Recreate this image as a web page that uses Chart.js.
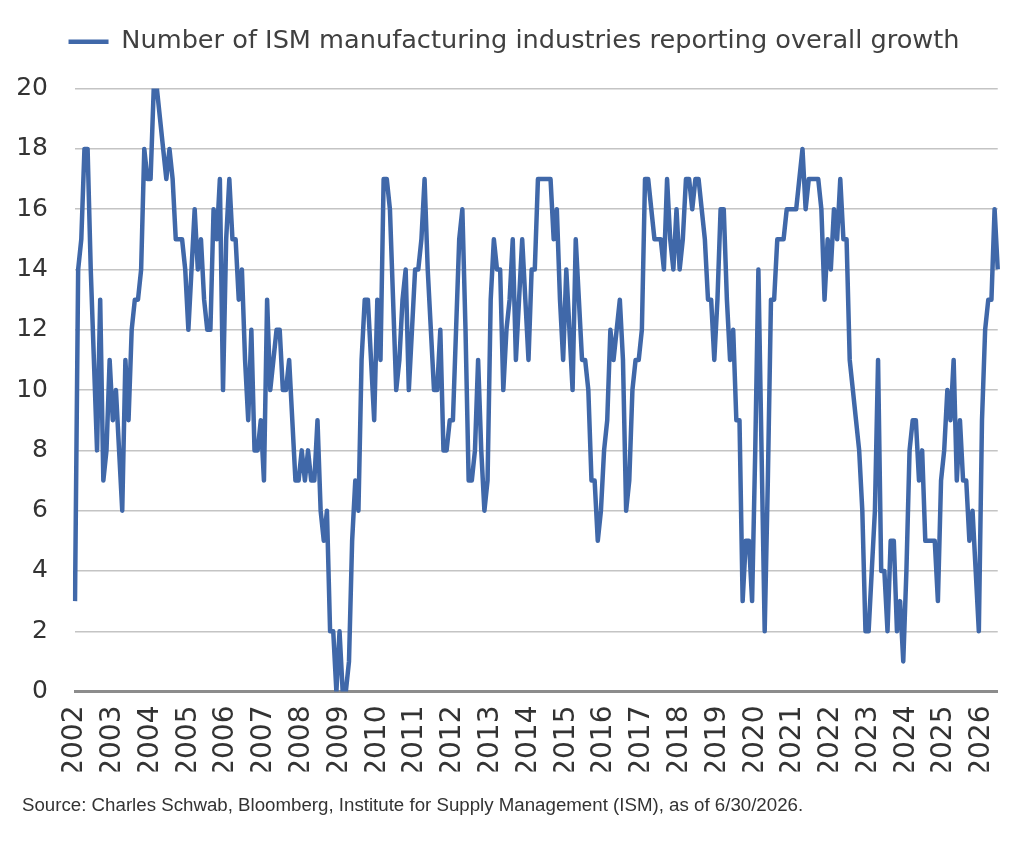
<!DOCTYPE html>
<html>
<head>
<meta charset="utf-8">
<script src="https://cdn.jsdelivr.net/npm/chart.js@4.4.1/dist/chart.umd.min.js"></script>
<style>
  html, body { margin: 0; padding: 0; background: #fff; }
  #wrap { width: 1022px; height: 844px; }
</style>
</head>
<body>
<div id="wrap"><canvas id="ism-chart"></canvas></div>
<script>
// year tick labels (one per January)
const years = ['2002', '2003', '2004', '2005', '2006', '2007', '2008', '2009', '2010', '2011', '2012', '2013',
    '2014', '2015', '2016', '2017', '2018', '2019', '2020', '2021', '2022', '2023', '2024', '2025', '2026'];

// monthly count of industries reporting growth, Jan 2002 .. Jun 2026
const industriesGrowing = [
    3, 14, 15, 18, 18, 14, 11, 8, 13, 7, 8, 11,        // 2002
    9, 10, 8, 6, 11, 9, 12, 13, 13, 14, 18, 17,        // 2003
    17, 20, 20, 19, 18, 17, 18, 17, 15, 15, 15, 14,    // 2004
    12, 14, 16, 14, 15, 13, 12, 12, 16, 15, 17, 10,    // 2005
    15, 17, 15, 15, 13, 14, 11, 9, 12, 8, 8, 9,        // 2006
    7, 13, 10, 11, 12, 12, 10, 10, 11, 9, 7, 7,        // 2007
    8, 7, 8, 7, 7, 9, 6, 5, 6, 2, 2, 0,                // 2008
    2, 0, 0, 1, 5, 7, 6, 11, 13, 13, 11, 9,            // 2009
    13, 11, 17, 17, 16, 13, 10, 11, 13, 14, 10, 12,    // 2010
    14, 14, 15, 17, 14, 12, 10, 10, 12, 8, 8, 9,       // 2011
    9, 12, 15, 16, 12, 7, 7, 8, 11, 8, 6, 7,           // 2012
    13, 15, 14, 14, 10, 12, 13, 15, 11, 13, 15, 13,    // 2013
    11, 14, 14, 17, 17, 17, 17, 17, 15, 16, 13, 11,    // 2014
    14, 12, 10, 15, 13, 11, 11, 10, 7, 7, 5, 6,        // 2015
    8, 9, 12, 11, 12, 13, 11, 6, 7, 10, 11, 11,        // 2016
    12, 17, 17, 16, 15, 15, 15, 14, 17, 15, 14, 16,    // 2017
    14, 15, 17, 17, 16, 17, 17, 16, 15, 13, 13, 11,    // 2018
    13, 16, 16, 13, 11, 12, 9, 9, 3, 5, 5, 3,          // 2019
    8, 14, 8, 2, 7, 13, 13, 15, 15, 15, 16, 16,        // 2020
    16, 16, 17, 18, 16, 17, 17, 17, 17, 16, 13, 15,    // 2021
    14, 16, 15, 17, 15, 15, 11, 10, 9, 8, 6, 2,        // 2022
    2, 4, 6, 11, 4, 4, 2, 5, 5, 2, 3, 1,               // 2023
    4, 8, 9, 9, 7, 8, 5, 5, 5, 5, 3, 7,                // 2024
    8, 10, 9, 11, 7, 9, 7, 7, 5, 6, 4, 2,              // 2025
    9, 12, 13, 13, 16, 14                              // 2026
];

const yTicks = [0, 2, 4, 6, 8, 10, 12, 14, 16, 18, 20];

const seriesName = 'Number of ISM manufacturing industries reporting overall growth';
const sourceNote = 'Source: Charles Schwab, Bloomberg, Institute for Supply Management (ISM), as of 6/30/2026.';

const lineBlue = '#4068a9';
const textGray = '#333333';
const fontFace = "'DejaVu Sans', 'Open Sans', sans-serif";

// one category per month; only Januaries get a year label
const monthLabels = industriesGrowing.map((v, i) => years[Math.floor(i / 12)] + '-' + String(i % 12 + 1).padStart(2, '0'));

// extra room under the legend, and nudge legend / source note sideways
const legendGap = {
    id: 'legendGap',
    beforeInit(chart) {
        const origFit = chart.legend.fit;
        chart.legend.fit = function () {
            origFit.bind(chart.legend)();
            this.height += 24;
        };
    },
    afterLayout(chart) {
        chart.legend.left += 20;
        chart.boxes.forEach(box => {
            if (box.options && box.options.text === sourceNote) {
                box.left += 12;
                box.right += 12;
            }
        });
    }
};

const ctx = document.getElementById('ism-chart').getContext('2d');

const ismChart = new Chart(ctx, {
    type: 'line',
    data: {
        labels: monthLabels,
        datasets: [{
            label: seriesName,
            data: industriesGrowing,
            borderColor: lineBlue,
            backgroundColor: lineBlue,
            borderWidth: 4.5,
            borderJoinStyle: 'round',
            pointRadius: 0,
            tension: 0
        }]
    },
    plugins: [legendGap],
    options: {
        responsive: true,
        maintainAspectRatio: false,
        animation: false,
        layout: {
            padding: { left: 10, right: 24, top: 11, bottom: 27 }
        },
        plugins: {
            legend: {
                position: 'top',
                align: 'center',
                labels: {
                    usePointStyle: true,
                    pointStyle: 'line',
                    pointStyleWidth: 40,
                    color: '#404040',
                    font: { family: fontFace, size: 25.6 },
                    padding: 18
                }
            },
            subtitle: {
                display: true,
                text: sourceNote,
                position: 'bottom',
                align: 'start',
                color: textGray,
                font: { family: "'Liberation Sans', Arial, sans-serif", size: 18.7, weight: 'normal' },
                padding: { top: 23, bottom: 0 }
            },
            tooltip: { enabled: false }
        },
        scales: {
            x: {
                type: 'category',
                offset: false,
                grid: { display: false },
                border: { display: true, color: '#8c8c8c', width: 3 },
                afterFit: (scale) => {
                    scale.height = 80;
                },
                ticks: {
                    autoSkip: false,
                    maxRotation: 90,
                    minRotation: 90,
                    padding: 6,
                    color: textGray,
                    font: { family: fontFace, size: 28 },
                    callback: function (value, index) {
                        return index % 12 === 0 ? years[index / 12] : null;
                    }
                }
            },
            y: {
                min: 0,
                max: 20,
                afterBuildTicks: (scale) => {
                    scale.ticks = yTicks.map(v => ({ value: v }));
                },
                afterFit: (scale) => {
                    scale.width = 65;
                },
                grid: { color: '#c4c4c4', lineWidth: 1.5, drawTicks: false },
                border: { display: false },
                ticks: {
                    padding: 27,
                    color: textGray,
                    font: { family: fontFace, size: 25 }
                }
            }
        }
    }
});
</script>
</body>
</html>
